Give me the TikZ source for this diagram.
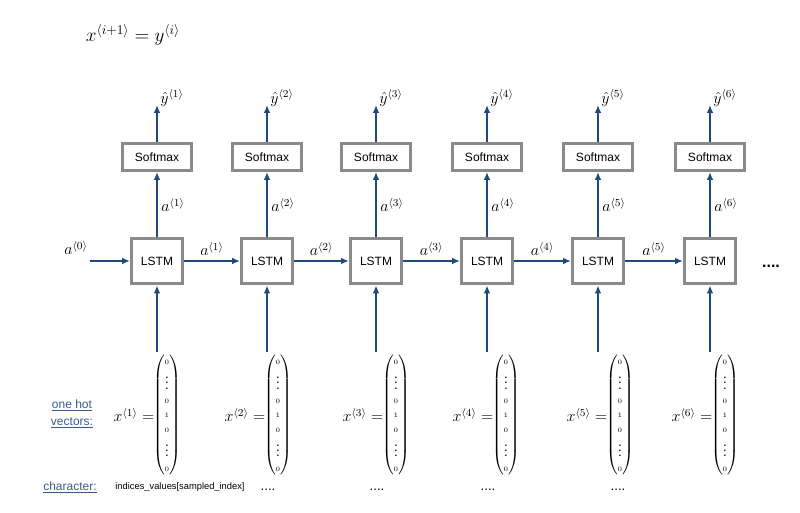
\documentclass[tikz,border=0pt]{standalone}
\usepackage{fontspec}
\setmainfont{Liberation Sans}
\usepackage{amsmath}
\usetikzlibrary{arrows.meta,calc}
\definecolor{arr}{HTML}{1F4A7A}
\definecolor{bx}{HTML}{8A8A8A}
\definecolor{lab}{HTML}{3A5A8C}
\newcommand{\ag}[1]{\langle #1\rangle}
\newcommand{\ovec}{$\left(\renewcommand{\arraystretch}{0.9}\begin{array}{@{}c@{}}\scriptscriptstyle0\\\scriptscriptstyle\vdots\\\scriptscriptstyle0\\\scriptscriptstyle1\\\scriptscriptstyle0\\\scriptscriptstyle\vdots\\\scriptscriptstyle0\end{array}\right)$}
\tikzset{
 lstm/.style={draw=bx,line width=2.5pt,fill=white,minimum width=38pt,minimum height=34pt,inner sep=0pt,font=\small},
 soft/.style={draw=bx,line width=2.5pt,fill=white,minimum width=52pt,minimum height=20pt,inner sep=0pt,font=\small},
 ar/.style={draw=arr,line width=1.3pt,-{Latex[length=6pt,width=5pt]}},
 ml/.style={font=\large},
 under/.style={text=lab,font=\small,align=center}
}
\begin{document}
\begin{tikzpicture}[x=0.75pt,y=-0.75pt]
\useasboundingbox (0,0) rectangle (800,513);
\node[font=\Large] (f) at (133,35) {$x^{\ag{i+1}}=y^{\ag{i}}$};
\node[ml] (a0) at (76,248) {$a^{\ag{0}}$};
\coordinate (s0) at (90,261);
\foreach \i/\x/\vx in {1/157/167,2/267/278,3/376/396,4/487/506,5/598/620,6/710/725}{
 \node[lstm] (L\i) at (\x,261) {LSTM};
 \node[soft] (S\i) at (\x,157) {Softmax};
 \coordinate (y\i) at (\x,105);
 \coordinate (in\i) at (\x,352);
 \draw[ar] (S\i.north) -- (y\i);
 \node[ml] (yl\i) at (\x+15,98) {$\hat y^{\ag{\i}}$};
 \draw[ar] (L\i.north) -- (S\i.south);
 \node[ml] (al\i) at (\x+16,205) {$a^{\ag{\i}}$};
 \draw[ar] (in\i) -- (L\i.south);
 \node[inner sep=0pt] (v\i) at (\vx,415) {\ovec};
 \node[ml,anchor=east] (xl\i) at (\vx-8,415) {$x^{\ag{\i}}=$};
}
\draw[ar] (s0) -- (L1.west);
\foreach \a/\b in {1/2,2/3,3/4,4/5,5/6}{
 \draw[ar] (L\a.east) -- (L\b.west);
 \node[ml] (h\a) at ($(L\a.east)!0.5!(L\b.west)+(0,-12)$) {$a^{\ag{\a}}$};
}
\node[font=\large\bfseries] (dots) at (771,266) {....};
\node[under] (oh) at (72,414) {\underline{one hot}\\[2pt]\underline{vectors:}};
\node[under] (ch) at (70,487) {\underline{character:}};
\node[font=\scriptsize] (c1) at (180,487) {indices\_values[sampled\_index]};
\foreach \x in {268,377,488,618}{ \node (d\x) at (\x,490) {....}; }
\end{tikzpicture}
\end{document}
